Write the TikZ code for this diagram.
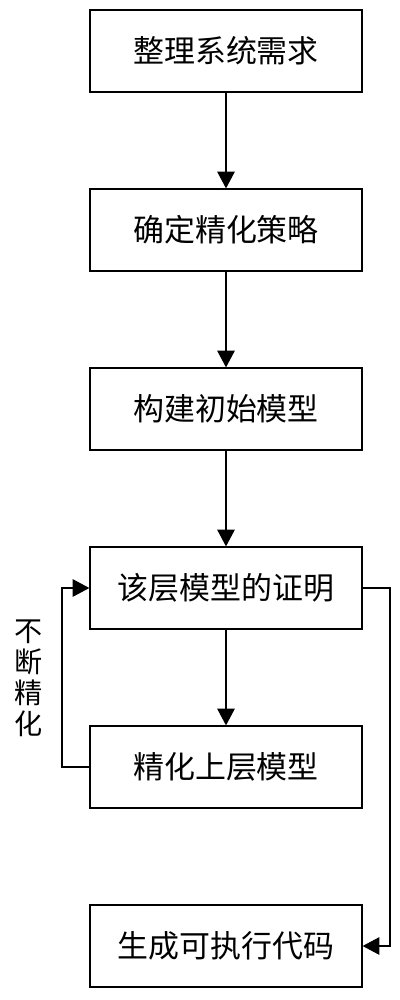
\documentclass[tikz,border=0pt]{standalone}
\usepackage{fontspec}
\setmainfont{Noto Sans CJK SC}
\usetikzlibrary{positioning,arrows.meta}

\begin{document}
\begin{tikzpicture}[node distance=4.475cm,on grid,line width=0.8pt,
   >={Triangle[length=0.42cm,width=0.44cm]},
   stepbox/.style={draw,line width=0.9pt,minimum width=6.8cm,minimum height=2.05cm,
     font=\fontsize{22}{26}\selectfont}]
   \useasboundingbox (0,0) rectangle (10,-25);
   \node[stepbox] (s_1) at (5.65,-1.275) {整理系统需求};
   \node[stepbox] (s_2) [below=of s_1] {确定精化策略};
   \node[stepbox] (s_3) [below=of s_2] {构建初始模型};
   \node[stepbox] (s_4) [below=of s_3] {该层模型的证明};
   \node[stepbox] (s_5) [below=of s_4] {精化上层模型};
   \node[stepbox] (s_6) [below=of s_5] {生成可执行代码};
   \coordinate (l_x) at (1.55,0);
   \coordinate (r_x) at (9.75,0);
   \node (loop) at (0.55,-16.95) [text width=1em,align=center,
     font=\fontsize{20}{22}\selectfont] {不\\断\\精\\化};
    \draw[->] (s_1) -- (s_2);
    \draw[->] (s_2) -- (s_3);
    \draw[->] (s_3) -- (s_4);
    \draw[->] (s_4) -- (s_5);
    \draw[->] (s_5.west) -- (s_5.west -| l_x) |- (s_4.west);
    \draw[->] (s_4.east) -- (s_4.east -| r_x) |- (s_6.east);
\end{tikzpicture}
\end{document}
